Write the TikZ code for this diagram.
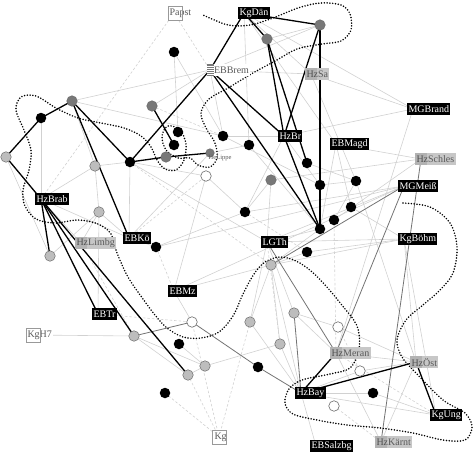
\documentclass[tikz,border=0pt]{standalone}
\usepackage{fontspec}
\setmainfont{Liberation Serif}
\definecolor{lgfill}{gray}{0.78}
\definecolor{lgtext}{gray}{0.35}
\definecolor{ltline}{gray}{0.82}
\definecolor{mdline}{gray}{0.45}
\definecolor{dkcirc}{gray}{0.47}
\definecolor{lgcirc}{gray}{0.74}
\definecolor{cedge}{gray}{0.42}
\begin{document}
\begin{tikzpicture}[x=1pt,y=-1pt,
  lab/.style={anchor=west,inner sep=1.3pt,minimum height=12.5pt,font=\fontsize{10}{11}\selectfont},
  blk/.style={lab,fill=black,text=white},
  lgt/.style={lab,fill=lgfill,text=lgtext},
  wht/.style={lab,fill=white,text=lgtext},
  lsq/.style={rectangle,minimum size=12.5pt,inner sep=0pt,fill=black,fill opacity=0.1},
  wsq/.style={rectangle,minimum size=14pt,inner sep=0pt,draw=gray!80,line width=0.6pt},
  cb/.style={circle,minimum size=10.5pt,inner sep=0pt,fill=black},
  cd/.style={circle,minimum size=10.5pt,inner sep=0pt,fill=dkcirc,draw=cedge,line width=0.5pt},
  cl/.style={circle,minimum size=10.5pt,inner sep=0pt,fill=lgcirc,draw=cedge,line width=0.5pt},
  cw/.style={circle,minimum size=10.5pt,inner sep=0pt,fill=white,draw=cedge,line width=0.6pt},
  thick line/.style={line width=1.3pt,black},
  mid line/.style={line width=0.8pt,mdline},
  light line/.style={line width=0.6pt,ltline},
  dash line/.style={line width=0.6pt,ltline,dash pattern=on 2.5pt off 2pt},
  dotline/.style={line width=1.7pt,black,dash pattern=on 0pt off 2.8pt,line cap=round}]
\useasboundingbox (0,0) rectangle (474,455);
% ---------- positions ----------
\coordinate (Papst) at (174,13);
\coordinate (KgDan) at (244,13);
\coordinate (EBBrem) at (210,70);
\coordinate (HzSa) at (311,74);
\coordinate (HzBr) at (284,136);
\coordinate (EBMagd) at (336,144);
\coordinate (MGBrand) at (413,109);
\coordinate (HzSchles) at (421,159);
\coordinate (MGMeiss) at (404,186);
\coordinate (KgBohm) at (404,239);
\coordinate (LGTh) at (267,242);
\coordinate (HzBrab) at (41,199);
\coordinate (HzLimbg) at (81,243);
\coordinate (EBKo) at (129,238);
\coordinate (EBMz) at (174,291);
\coordinate (EBTr) at (98,314);
\coordinate (KgH7) at (32,335);
\coordinate (Kg) at (219,437);
\coordinate (HzMeran) at (336,353);
\coordinate (HzOst) at (416,362);
\coordinate (HzBay) at (301,393);
\coordinate (KgUng) at (436,415);
\coordinate (EBSalzbg) at (316,446);
\coordinate (HzKarnt) at (381,442);
\coordinate (c1) at (174,52);
\coordinate (c2) at (72,101);
\coordinate (c3) at (41,118);
\coordinate (c4) at (6,157);
\coordinate (c5) at (152,106);
\coordinate (c6) at (178,132);
\coordinate (c7) at (174,145);
\coordinate (c8) at (223,136);
\coordinate (c9) at (166,157);
\coordinate (c10) at (130,162);
\coordinate (c11) at (210,153);
\coordinate (c12) at (206,176);
\coordinate (c13) at (95,166);
\coordinate (c14) at (99,212);
\coordinate (c15) at (50,256);
\coordinate (c16) at (156,247);
\coordinate (c17) at (267,39);
\coordinate (c18) at (320,25);
\coordinate (c19) at (249,145);
\coordinate (c20) at (307,163);
\coordinate (c21) at (271,180);
\coordinate (c22) at (320,185);
\coordinate (c23) at (356,181);
\coordinate (c24) at (245,212);
\coordinate (c25) at (351,207);
\coordinate (c26) at (334,220);
\coordinate (c27) at (320,229);
\coordinate (c28) at (307,252);
\coordinate (c29) at (271,265);
\coordinate (c30) at (192,322);
\coordinate (c31) at (134,336);
\coordinate (c32) at (179,344);
\coordinate (c33) at (205,366);
\coordinate (c34) at (188,375);
\coordinate (c35) at (165,393);
\coordinate (c36) at (250,322);
\coordinate (c37) at (294,313);
\coordinate (c38) at (338,327);
\coordinate (c39) at (280,344);
\coordinate (c40) at (258,367);
\coordinate (c41) at (360,371);
\coordinate (c42) at (373,393);
\coordinate (c43) at (334,406);
% ---------- light connectors ----------
\foreach \a/\b in {KgDan/MGBrand,KgDan/HzSa,KgDan/EBMagd,KgDan/c19,c17/c18,EBBrem/c18,
  EBBrem/HzSa,EBBrem/c2,EBBrem/c5,EBBrem/c8,c1/c6,c1/c8,c2/c8,c2/c13,c3/HzBrab,c4/c15,
  c13/c10,c13/c14,c14/c15,c14/EBKo,HzBrab/EBKo,HzBrab/HzLimbg,c10/EBKo,c10/c12,c10/LGTh,
  EBKo/c11,EBKo/c16,c16/MGMeiss,c12/c24,c12/EBMz,c11/c19,c8/c22,c8/HzBr,c19/c27,
  HzBr/MGBrand,HzBr/c24,HzBr/c22,HzSa/c23,EBMagd/c27,EBMagd/c25,EBMagd/HzSchles,
  MGBrand/HzMeran,HzSchles/c26,HzSchles/c21,MGMeiss/c24,MGMeiss/LGTh,KgBohm/LGTh,
  KgBohm/c29,KgBohm/HzOst,KgBohm/KgUng,c27/LGTh,c27/c29,c28/c29,c28/KgBohm,LGTh/c36,
  LGTh/c37,c29/c39,c29/HzBay,c29/c36,EBMz/c29,EBMz/MGMeiss,EBMz/c30,KgH7/c31,c31/c34,
  c31/c33,c34/c33,c33/c39,c36/HzBay,c37/HzMeran,c37/c38,c38/HzOst,c39/HzBay,c41/HzBay,
  c41/HzOst,c42/HzBay,c42/KgUng,HzBay/KgUng,HzBay/EBSalzbg,HzMeran/HzOst,HzOst/c23,
  HzMeran/HzKarnt,c23/c26,c21/c24,c13/HzBrab,c16/c24,HzLimbg/c14,EBTr/c14,c32/c33,
  c25/KgBohm,c22/c23,HzSa/MGBrand,c20/c23,c21/LGTh,HzOst/HzKarnt}
  \draw[light line] (\a) -- (\b);
\foreach \a/\b in {Papst/EBBrem,Papst/HzBrab,c35/Kg,Kg/c30,Kg/c36,EBKo/c12,c10/c29,
  EBTr/c30,HzLimbg/c31,c24/c28,LGTh/c39,HzMeran/KgUng,c38/c41,c43/HzKarnt,c34/Kg,
  c26/HzMeran,c16/EBMz,c5/c8}
  \draw[dash line] (\a) -- (\b);
% ---------- medium connectors ----------
\foreach \a/\b in {LGTh/HzMeran,MGMeiss/c29,MGMeiss/HzMeran,HzSchles/HzKarnt,c31/c30,
  c30/c40,c40/HzBay,c37/HzBay}
  \draw[mid line] (\a) -- (\b);
% ---------- heavy connectors ----------
\foreach \a/\b in {KgDan/EBBrem,KgDan/c17,KgDan/c18,c17/HzBr,c17/c20,c18/HzBr,c18/c27,
  EBBrem/c10,EBBrem/HzBr,EBBrem/c27,HzBr/c27,c4/c3,c3/c2,c4/HzBrab,c2/c10,c2/EBKo,
  c10/c9,c9/c11,c5/c7,HzBrab/c15,HzBrab/EBTr,HzBrab/c31,HzBrab/c34,HzMeran/HzBay,
  HzBay/HzOst,HzOst/KgUng}
  \draw[thick line] (\a) -- (\b);
% ---------- dotted boundary ----------
\draw[dotline] plot[smooth,tension=0.55] coordinates {
 (403,203) (430,207) (450,223) (457,247) (453,273) (440,290) (423,305) (406,320)
 (397,340) (402,357) (416,373) (443,400) (465,413) (472,427) (465,440) (443,440)
 (413,433) (380,428) (347,425) (317,420) (293,414) (285,403) (289,389) (302,380)
 (330,374) (350,368) (359,350) (357,326) (341,304) (326,286) (311,271) (296,261)
 (280,257) (265,262) (254,274) (243,294) (233,316) (219,332) (201,338) (183,337)
 (167,328) (155,315) (143,299) (128,277) (117,253) (111,234) (98,224) (78,220)
 (55,223) (36,219) (25,206) (23,190) (29,170) (31,150) (24,130) (16,110) (21,97)
 (36,96) (56,108) (78,118) (101,123) (124,128) (141,136) (151,147) (157,160)
 (165,169) (176,170) (184,160) (186,144) (180,130) (168,126) (162,136) (166,150)
 (178,158) (190,158) (198,165) (210,167) (217,158) (215,143) (206,128) (201,113)
 (209,99) (228,88) (253,73) (277,60) (297,49) (322,44) (341,41) (351,30) (350,14)
 (341,5) (320,3) (298,8) (273,18) (250,25) (228,25) (203,15)};
% ---------- circles ----------
\foreach \c in {c1,c3,c6,c7,c8,c10,c16,c19,c20,c22,c23,c24,c25,c26,c27,c28,c32,c35,c40,c42}
  \node[cb] (\c-n) at (\c) {};
\foreach \c in {c2,c5,c9,c17,c18,c21}
  \node[cd] (\c-n) at (\c) {};
\node[cd,minimum size=8.5pt] (c11-n) at (c11) {};
\foreach \c in {c4,c13,c14,c15,c29,c31,c33,c34,c36,c37,c39}
  \node[cl] (\c-n) at (\c) {};
\foreach \c in {c12,c30,c38,c41,c43}
  \node[cw] (\c-n) at (\c) {};
% ---------- labels ----------
\node[wht] (Papst-l) at ([xshift=-6pt]Papst) {Papst};
\node[wsq] (Papst-s) at ([xshift=1pt]Papst) {};
\node[blk] (KgDan-l) at ([xshift=-6pt]KgDan) {KgDän};
\node[wht,inner sep=0.8pt] (EBBrem-l) at ([xshift=3pt]EBBrem) {EBBrem};
\node[rectangle,minimum width=7pt,minimum height=12pt,inner sep=0pt,fill=dkcirc] (EBBrem-s) at (EBBrem) {};
\foreach \d in {-4,-2,0,2,4} \draw[white,line width=0.4pt] ([xshift=-3.5pt,yshift=\d pt]EBBrem) -- ([xshift=3.5pt,yshift=\d pt]EBBrem);
\node[lgt] (HzSa-l) at ([xshift=-6pt]HzSa) {HzSa};
\node[lsq] (HzSa-s) at (HzSa) {};
\node[blk] (HzBr-l) at ([xshift=-6pt]HzBr) {HzBr};
\node[blk] (EBMagd-l) at ([xshift=-6pt]EBMagd) {EBMagd};
\node[blk] (MGBrand-l) at ([xshift=-6pt]MGBrand) {MGBrand};
\node[lgt] (HzSchles-l) at ([xshift=-6pt]HzSchles) {HzSchles};
\node[lsq] (HzSchles-s) at (HzSchles) {};
\node[blk] (MGMeiss-l) at ([xshift=-6pt]MGMeiss) {MGMeiß};
\node[blk] (KgBohm-l) at ([xshift=-6pt]KgBohm) {KgBöhm};
\node[blk] (LGTh-l) at ([xshift=-6pt]LGTh) {LGTh};
\node[blk] (HzBrab-l) at ([xshift=-6pt]HzBrab) {HzBrab};
\node[lgt] (HzLimbg-l) at ([xshift=-6pt]HzLimbg) {HzLimbg};
\node[lsq] (HzLimbg-s) at (HzLimbg) {};
\node[blk] (EBKo-l) at ([xshift=-6pt]EBKo) {EBKö};
\node[blk] (EBMz-l) at ([xshift=-6pt]EBMz) {EBMz};
\node[blk] (EBTr-l) at ([xshift=-6pt]EBTr) {EBTr};
\node[wht] (KgH7-l) at ([xshift=-6pt]KgH7) {KgH7};
\node[wsq] (KgH7-s) at ([xshift=1pt]KgH7) {};
\node[wht] (Kg-l) at ([xshift=-6pt]Kg) {Kg};
\node[wsq] (Kg-s) at ([xshift=0pt]Kg) {};
\node[lgt] (HzMeran-l) at ([xshift=-6pt]HzMeran) {HzMeran};
\node[lsq] (HzMeran-s) at (HzMeran) {};
\node[lgt] (HzOst-l) at ([xshift=-6pt]HzOst) {HzÖst};
\node[lsq] (HzOst-s) at (HzOst) {};
\node[blk] (HzBay-l) at ([xshift=-6pt]HzBay) {HzBay};
\node[blk] (KgUng-l) at ([xshift=-6pt]KgUng) {KgUng};
\node[blk] (EBSalzbg-l) at ([xshift=-6pt]EBSalzbg) {EBSalzbg};
\node[lgt] (HzKarnt-l) at ([xshift=-6pt]HzKarnt) {HzKärnt};
\node[lsq] (HzKarnt-s) at (HzKarnt) {};
\node[anchor=west,inner sep=0.5pt,font=\fontsize{6.5}{7}\selectfont,text=lgtext] (HeLippe-l) at (208,158) {HeLippe};
\end{tikzpicture}
\end{document}
